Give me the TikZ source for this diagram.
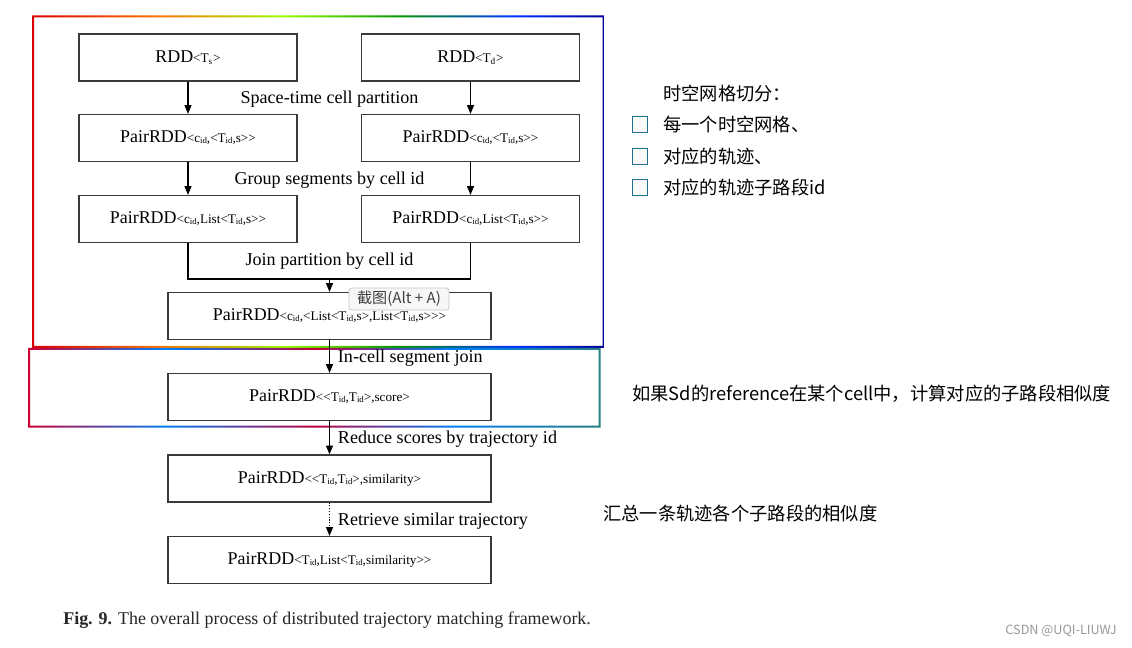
\documentclass[tikz,border=0pt]{standalone}
\usepackage{fontspec}
\setmainfont{Liberation Serif}[Ligatures=TeXOff]
\newfontfamily\cjk{Noto Sans CJK SC}
\usetikzlibrary{arrows.meta}
\newcommand{\sm}[1]{{\fontsize{7.5}{9}\selectfont #1}}
\newcommand{\sid}[1]{#1{\fontsize{5}{6}\selectfont\raisebox{-0.25ex}{id}}}
\pgfdeclarehorizontalshading{rainA}{100bp}{color(0bp)=(red!85!black); color(25bp)=(red!85!black); color(36bp)=(orange!90!red); color(47bp)=(yellow!60!green); color(57bp)=(green!60!black); color(67bp)=(blue!80!cyan); color(75bp)=(blue!60!black); color(100bp)=(blue!60!black)}
\pgfdeclarehorizontalshading{rainB}{100bp}{color(0bp)=(purple!80!red); color(25bp)=(purple!80!red); color(37bp)=(cyan!50!blue); color(50bp)=(purple); color(62bp)=(blue!50!cyan); color(75bp)=(teal!70!gray); color(100bp)=(teal!70!gray)}
\definecolor{boxline}{HTML}{3A3A3A}
\definecolor{chk}{HTML}{1F6F8F}
\tikzset{
  box/.style={draw=boxline, line width=0.7pt, minimum height=0.94cm, inner sep=0pt, font=\fontsize{10.2}{12}\selectfont},
  nbox/.style={box, minimum width=4.36cm},
  wbox/.style={box, minimum width=6.46cm},
  arr/.style={draw=black, line width=0.6pt, -{Triangle[length=5pt,width=4pt]}},
  lbl/.style={font=\fontsize{10.3}{12}\selectfont, inner sep=0pt},
  zh/.style={font=\cjk\fontsize{10.4}{12}\selectfont, inner sep=0pt, anchor=west},
  chkbox/.style={draw=chk, fill=gray!5, line width=0.6pt, minimum size=0.31cm, inner sep=0pt},
}
\begin{document}
\begin{tikzpicture}[x=0.02cm, y=-0.02cm]
\useasboundingbox (0,0) rectangle (1132,648);
\fill[white] (0,0) rectangle (1132,648);
% rainbow frames
\shade[shading=rainA, even odd rule] (32,15.5) rectangle (604.5,348) (34,17.5) rectangle (602.5,346);
\shade[shading=rainB, even odd rule] (28,348) rectangle (600.5,427.5) (30,350) rectangle (598.5,425.5);
% boxes
\node[nbox] (a1) at (188,57.5) {RDD\sm{<T\textsubscript{s}>}};
\node[nbox] (b1) at (470.5,57.5) {RDD\sm{<T\textsubscript{d}>}};
\node[nbox] (a2) at (188,138) {PairRDD\sm{<\sid{c},<\sid{T},s>>}};
\node[nbox] (b2) at (470.5,138) {PairRDD\sm{<\sid{c},<\sid{T},s>>}};
\node[nbox] (a3) at (188,219) {PairRDD\sm{<\sid{c},List<\sid{T},s>>}};
\node[nbox] (b3) at (470.5,219) {PairRDD\sm{<\sid{c},List<\sid{T},s>>}};
\node[wbox] (j) at (329.5,316) {PairRDD\sm{<\sid{c},<List<\sid{T},s>,List<\sid{T},s>>>}};
\node[wbox] (s) at (329.5,397) {PairRDD\sm{<<\sid{T},\sid{T}>,score>}};
\node[wbox] (m) at (329.5,478.5) {PairRDD\sm{<<\sid{T},\sid{T}>,similarity>}};
\node[wbox] (r) at (329.5,560) {PairRDD\sm{<\sid{T},List<\sid{T},similarity>>}};
% connectors
\draw[arr] (a1) -- (a2);
\draw[arr] (b1) -- (b2);
\node[lbl] (l1) at (329.5,99) {Space-time cell partition};
\draw[arr] (a2) -- (a3);
\draw[arr] (b2) -- (b3);
\node[lbl] (l2) at (329.5,180) {Group segments by cell id};
\coordinate (jc) at (329.5,279);
\draw[line width=0.6pt] (a3.south) |- (jc) -| (b3.south);
\draw[arr] (jc) -- (j.north);
\node[lbl] (l3) at (329.5,261) {Join partition by cell id};
\draw[arr] (j) -- node[lbl, anchor=west, xshift=4.5pt, yshift=-1pt] {In-cell segment join} (s);
\draw[arr] (s) -- node[lbl, anchor=west, xshift=4.5pt, yshift=-1pt] {Reduce scores by trajectory id} (m);
\draw[arr, densely dotted] (m) -- node[lbl, anchor=west, xshift=4.5pt, yshift=-1pt] {Retrieve similar trajectory} (r);
% tooltip
\node[draw=gray!45, fill=gray!6, rounded corners=1.5pt, minimum width=2cm, minimum height=0.44cm, inner sep=0pt, font=\cjk\fontsize{8.6}{10}\selectfont, text=black!75] (tip) at (399,299) {截图(Alt + A)};
% notes
\node[zh] (n0) at (663,94) {时空网格切分：};
\node[chkbox] (c1) at (640,124.5) {};
\node[chkbox] (c2) at (640,156.5) {};
\node[chkbox] (c3) at (640,187.5) {};
\node[zh] (n1) at (663,125) {每一个时空网格、};
\node[zh] (n2) at (663,157) {对应的轨迹、};
\node[zh] (n3) at (663,188) {对应的轨迹子路段id};
\node[zh] (n4) at (632,393.5) {如果Sd的reference在某个cell中，计算对应的子路段相似度};
\node[zh] (n5) at (603,514) {汇总一条轨迹各个子路段的相似度};
% caption
\node[anchor=west, inner sep=0pt, text=black!85, font=\fontsize{10.2}{12}\selectfont] (cap) at (63,620) {\textbf{Fig. 9.} The overall process of distributed trajectory matching framework.};
\node[anchor=east, inner sep=0pt, text=gray!80, font=\fontsize{7.2}{9}\selectfont\cjk] (wm) at (1117,631) {CSDN @UQI-LIUWJ};
\end{tikzpicture}
\end{document}
